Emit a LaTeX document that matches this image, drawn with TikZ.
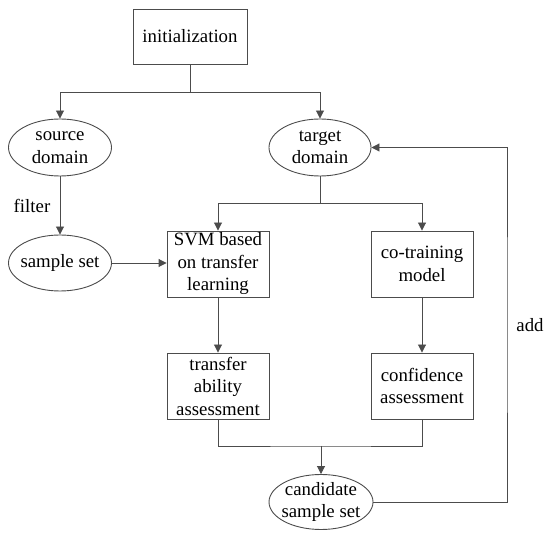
\documentclass[tikz,border=0pt]{standalone}
\usepackage{fontspec}
\setmainfont{Liberation Serif}
\usetikzlibrary{arrows.meta,shapes.geometric}
\begin{document}
\begin{tikzpicture}[x=1pt,y=-1pt,
  every node/.style={font=\fontsize{18.8}{22.5}\selectfont, text=black},
  line/.style={draw=black!70, line width=0.9pt},
  arr/.style={line, -{Triangle[length=8pt,width=8pt]}},
  box/.style={line, rectangle, minimum width=102pt, minimum height=66pt, inner sep=0pt, align=center},
  ell/.style={line, ellipse, minimum width=103pt, minimum height=57pt, inner sep=0pt}]
\useasboundingbox (0,0) rectangle (550,540);
\node[box, minimum width=114pt, minimum height=55pt] (init) at (190,36.5) {initialization};
\node[ell, label={[align=center]center:source\\domain}] (src) at (60,147.5) {};
\node[ell, minimum width=102pt, label={[align=center]center:target\\domain}] (tgt) at (320,147.5) {};
\node[ell, minimum height=56pt, label={center:sample set}] (smp) at (60,263) {};
\node[box] (svm) at (218,264) {SVM based\\on transfer\\learning};
\node[box] (cot) at (422,264) {co-training\\model};
\node[box] (tra) at (218,386) {transfer\\ability\\assessment};
\node[box] (con) at (422,386) {confidence\\assessment};
\node[ell, minimum width=104pt, minimum height=55pt, label={[align=center]center:candidate\\sample set}] (cand) at (321,502) {};
\node (filter) at (32,206) {filter};
\node (add) at (530,325) {add};
\coordinate (b1) at (190,92);
\coordinate (b2) at (320,203);
\coordinate (b3) at (321,446);
\coordinate (fb) at (507,325);
\draw[line] (init.south) -- (b1);
\draw[arr] (b1) -| (src.north);
\draw[arr] (b1) -| (tgt.north);
\draw[arr] (src.south) -- (smp.north);
\draw[arr] (smp.east) -- (svm.west |- smp.east);
\draw[line] (tgt.south) -- (b2);
\draw[arr] (b2) -| (svm.north);
\draw[arr] (b2) -| (cot.north);
\draw[arr] (svm.south) -- (tra.north);
\draw[arr] (cot.south) -- (con.north);
\draw[line] (tra.south) |- (b3) -| (con.south);
\draw[arr] (b3) -- (cand.north);
\draw[arr] (cand.east) -| (fb) |- (tgt.east);
\end{tikzpicture}
\end{document}
